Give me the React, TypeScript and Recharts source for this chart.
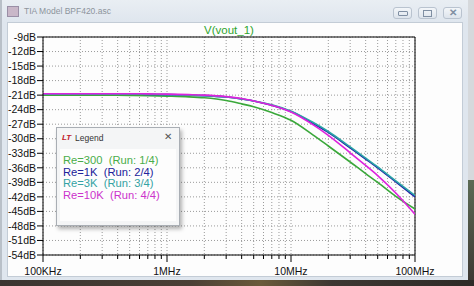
import React from 'react';
import { LineChart, Line, XAxis, YAxis, CartesianGrid, ReferenceLine } from 'recharts';

const freqs = [1e5, 2e5, 3e5, 5e5, 7e5, 1e6, 1.5e6, 2e6, 3e6, 4e6, 5e6, 7e6, 1e7, 1.5e7, 2e7, 3e7, 4e7, 5e7, 7e7, 1e8];
const re300 = [-21.0, -21.0, -21.0, -21.05, -21.1, -21.2, -21.35, -21.55, -22.1, -22.8, -23.4, -24.6, -26.2, -29.2, -31.5, -34.8, -37.2, -39.0, -41.9, -44.5];
const re1k = [-20.8, -20.8, -20.8, -20.8, -20.85, -20.9, -21.0, -21.1, -21.4, -21.8, -22.2, -23.1, -24.4, -26.8, -28.7, -31.9, -34.2, -36.0, -38.9, -42.0];
const re3k = [-20.8, -20.8, -20.8, -20.8, -20.85, -20.9, -21.0, -21.1, -21.4, -21.8, -22.2, -23.0, -24.3, -26.6, -28.5, -31.7, -34.0, -35.8, -38.7, -41.7];
const re10k = [-20.7, -20.7, -20.7, -20.7, -20.75, -20.8, -20.9, -21.0, -21.3, -21.7, -22.2, -23.1, -24.5, -27.1, -29.3, -32.9, -35.5, -37.6, -41.2, -45.6];

const seriesKeys = ['re300', 're1k', 're3k', 're10k'];
const seriesNames = ['Re=300  (Run: 1/4)', 'Re=1K  (Run: 2/4)', 'Re=3K  (Run: 3/4)', 'Re=10K  (Run: 4/4)'];
const seriesColors = ['#3aa83a', '#1c1ca8', '#2aa5a5', '#dd22dd'];
const legendColors = ['#4aad4a', '#22229a', '#35a3a3', '#cc33cc'];

const yTicks = [-54, -51, -48, -45, -42, -39, -36, -33, -30, -27, -24, -21, -18, -15, -12, -9];
const xTicks = [
  1e5, 2e5, 3e5, 4e5, 5e5, 6e5, 7e5, 8e5, 9e5,
  1e6, 2e6, 3e6, 4e6, 5e6, 6e6, 7e6, 8e6, 9e6,
  1e7, 2e7, 3e7, 4e7, 5e7, 6e7, 7e7, 8e7, 9e7,
  1e8,
];
const decadeTicks = [1e5, 1e6, 1e7, 1e8];
const decadeLabels = ['100KHz', '1MHz', '10MHz', '100MHz'];
const chartTitle = 'V(vout_1)';
const windowTitle = 'TIA Model BPF420.asc';

const data = freqs.map((f, i) => ({ f, re300: re300[i], re1k: re1k[i], re3k: re3k[i], re10k: re10k[i] }));

const FONT = '"Liberation Sans", Arial, sans-serif';

const XTick = (props: any) => {
  const { x, y, payload } = props;
  const idx = decadeTicks.findIndex((d) => Math.abs(d - payload.value) / d < 1e-6);
  const major = idx >= 0;
  return (
    <g>
      <line x1={x} x2={x} y1={y} y2={y + (major ? 7 : 4)} stroke="#000" strokeWidth={1} />
      {major && (
        <text x={x} y={y + 20} textAnchor="middle" fontSize={10.5} fontFamily={FONT} fill="#111">
          {decadeLabels[idx]}
        </text>
      )}
    </g>
  );
};

const Btn = ({ left, children }: any) => (
  <div
    style={{
      position: 'absolute', left, top: 7, width: 19, height: 12, borderRadius: 3,
      border: '1px solid #b9c3cf', background: 'linear-gradient(#f3f6f9, #dde4ec)',
      boxSizing: 'border-box', display: 'flex', alignItems: 'center', justifyContent: 'center',
    }}
  >
    {children}
  </div>
);

export default function App() {
  return (
    <div style={{ position: 'fixed', left: 0, top: 0, width: 474, height: 286, overflow: 'hidden', background: '#dfe6ee', fontFamily: FONT }}>
      {/* outside photo strips */}
      <div style={{ position: 'absolute', left: 468, top: 0, width: 6, height: 180, background: '#d6d9dc' }} />
      <div style={{ position: 'absolute', left: 468, top: 180, width: 6, height: 106, background: 'linear-gradient(#5c6b55, #3c3631)' }} />
      <div style={{ position: 'absolute', left: 0, top: 280, width: 474, height: 6, background: 'linear-gradient(90deg,#3a3430,#4a3f35 40%,#6a5a3a 55%,#3d3732 70%,#2e2a27)' }} />
      <div style={{ position: 'absolute', left: 0, top: 0, width: 2, height: 280, background: '#b9c0c8' }} />
      {/* title bar */}
      <div style={{ position: 'absolute', left: 2, top: 0, width: 466, height: 22, background: 'linear-gradient(#e9eef3, #dfe6ee)' }} />
      <div style={{ position: 'absolute', left: 7, top: 6, width: 12, height: 11, background: '#c9b7c8', border: '1px solid #9a8fa6', boxSizing: 'border-box' }} />
      <div style={{ position: 'absolute', left: 24, top: 6, fontSize: 8.5, color: '#8d949c', whiteSpace: 'nowrap' }}>{windowTitle}</div>
      <Btn left={393}><div style={{ width: 8, height: 3, border: '1px solid #7f8fa3', borderRadius: 1 }} /></Btn>
      <Btn left={418}><div style={{ width: 7, height: 5, border: '1px solid #7f8fa3' }} /></Btn>
      <Btn left={443}><div style={{ fontSize: 10, lineHeight: '10px', color: '#7f8fa3', fontWeight: 700 }}>✕</div></Btn>
      {/* white panel */}
      <div style={{ position: 'absolute', left: 7, top: 22, width: 456, height: 255, background: '#fdfdfd', border: '1px solid #c3ccd6', boxSizing: 'border-box' }} />
      <div style={{ position: 'absolute', left: 0, top: 24, width: 458, textAlign: 'center', fontSize: 11.5, color: '#2da52d', whiteSpace: 'nowrap' }}>{chartTitle}</div>
      <div style={{ position: 'absolute', left: 0, top: 0 }}>
        <LineChart width={474} height={286} data={data} margin={{ top: 37, right: 59, bottom: 0, left: 0 }}>
          <CartesianGrid stroke="#9a9a9a" strokeDasharray="1 2" />
          <XAxis
            dataKey="f" type="number" scale="log" domain={[1e5, 1e8]} allowDataOverflow
            ticks={xTicks} interval={0} height={31} tickSize={0} tickMargin={0} tickLine={false}
            axisLine={{ stroke: '#000' }} tick={<XTick />}
          />
          <YAxis
            type="number" domain={[-54, -9]} ticks={yTicks} interval={0} width={43} allowDataOverflow
            tickSize={6} tickMargin={1} tickLine={{ stroke: '#000' }} axisLine={{ stroke: '#000' }}
            tickFormatter={(v: number) => `${v}dB`}
            tick={{ fill: '#111', fontSize: 10.5, fontFamily: FONT }}
          />
          <ReferenceLine y={-9} stroke="#000" strokeWidth={1} />
          <ReferenceLine x={1e8} stroke="#000" strokeWidth={1} />
          {seriesKeys.map((k, i) => (
            <Line key={k} dataKey={k} type="monotone" stroke={seriesColors[i]} strokeWidth={1.6} dot={false} activeDot={false} isAnimationActive={false} />
          ))}
        </LineChart>
      </div>
      {/* legend window */}
      <div style={{ position: 'absolute', left: 56, top: 127, width: 124, height: 99, background: '#f4f5f6', border: '1px solid #a9aeb4', boxSizing: 'border-box', boxShadow: '2px 3px 4px rgba(0,0,0,0.3)' }}>
        <div style={{ position: 'absolute', left: 5, top: 5, fontSize: 8, fontWeight: 700, fontStyle: 'italic', color: '#c0202a' }}>LT</div>
        <div style={{ position: 'absolute', left: 18, top: 5, fontSize: 8.5, color: '#333' }}>Legend</div>
        <div style={{ position: 'absolute', left: 107, top: 3, fontSize: 10, color: '#555' }}>✕</div>
        <div style={{ position: 'absolute', left: 3, top: 21, width: 116, height: 72, background: '#fdfdfd' }}>
          {seriesNames.map((n, i) => (
            <div key={n} style={{ position: 'absolute', left: 3, top: 5 + i * 11.7, fontSize: 11.2, lineHeight: '13px', color: legendColors[i], whiteSpace: 'pre' }}>{n}</div>
          ))}
        </div>
      </div>
    </div>
  );
}
